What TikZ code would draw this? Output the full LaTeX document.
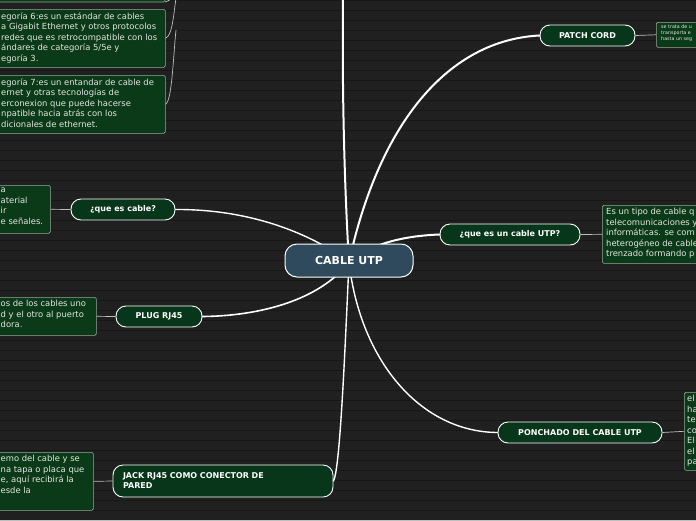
\documentclass[tikz,border=0pt]{standalone}
\usepackage{fontspec}
\setmainfont{DejaVu Sans}
\begin{document}
\begin{tikzpicture}[x=1pt,y=-1pt,
  topic/.style={draw=white,line width=0.9pt,fill=topicgreen,rounded corners=10pt,text=white,font=\bfseries\fontsize{8}{10}\selectfont,inner sep=0pt},
  leaf/.style={draw=leafborder,line width=0.6pt,fill=leafgreen,rounded corners=1.5pt},
  leaftext/.style={text=white!90!black,font=\fontsize{8.4}{10.5}\selectfont,anchor=north west,align=left,inner sep=0pt},
  thick branch/.style={white,line width=2pt,line cap=round},
  thin branch/.style={white!75!black,line width=0.7pt}]
\definecolor{bg}{HTML}{202021}
\definecolor{topicgreen}{HTML}{08361A}
\definecolor{leafgreen}{HTML}{0A3A17}
\definecolor{leafborder}{HTML}{9AA59C}
\definecolor{centerblue}{HTML}{2E4A5C}
\useasboundingbox (0,0) rectangle (696,520);
\fill[bg] (0,0) rectangle (696,520);
\begin{scope}
\clip (0,0) rectangle (696,520);
\foreach \r in {0,...,52}{
  \draw[black,line width=0.3pt,opacity=0.25] (0,\r*10) -- (696,\r*10);
}
\coordinate (c) at (349,262);
\coordinate (topend) at (343,-2);
\coordinate (catend) at (176,-2);
\draw[thick branch] (c) .. controls (344,180) and (342,80) .. (topend);
\draw[leaf] (-5,-20) rectangle (165,2);
\node[leaf,minimum width=175pt,minimum height=58pt,anchor=north west] (cat6) at (-10,9) {};
\node[leaftext] at (1,12.5) {egoría 6:es un estándar de cables\\a Gigabit Ethernet y otros protocolos\\redes que es retrocompatible con los\\ándares de categoría 5/5e y\\egoría 3.};
\node[leaf,minimum width=175pt,minimum height=58pt,anchor=north west] (cat7) at (-10,75) {};
\node[leaftext] at (1,78.5) {egoría 7:es un entandar de cable de\\ernet y otras tecnologías de\\erconexion que puede hacerse\\npatible hacia atrás con los\\dicionales de ethernet.};
\draw[thin branch] (cat6.east) .. controls (172,35) and (173,20) .. (catend);
\draw[thin branch] (cat7.east) .. controls (172,100) and (173,60) .. (176,30);
\draw[thin branch] (165,2) .. controls (170,0) .. (171,-2);
\node[leaf,minimum width=60pt,minimum height=48pt,anchor=north west] (lcable) at (-10,185) {};
\node[leaftext] at (0.5,188) {a\\aterial\\ir\\e señales.};
\node[leaf,minimum width=106pt,minimum height=38pt,anchor=north west] (lplug) at (-10,297) {};
\node[leaftext] at (0.5,300) {os de los cables uno\\d y el otro al puerto\\dora.};
\node[leaf,minimum width=103pt,minimum height=58pt,anchor=north west] (ljack) at (-10,452) {};
\node[leaftext] at (0.5,455) {emo del cable y se\\na tapa o placa que\\e, aquí recibirá la\\esde la};
\node[leaf,minimum width=50pt,minimum height=25pt,anchor=north west] (lpatch) at (656,22) {};
\node[leaftext,font=\fontsize{4.8}{6}\selectfont] at (661,25) {se trata de u\\transporta e\\hasta un seg};
\node[leaf,minimum width=100pt,minimum height=58pt,anchor=north west] (lutp) at (602,205) {};
\node[leaftext] at (606,208) {Es un tipo de cable q\\telecomunicaciones y\\informáticas. se com\\heterogéneo de cable\\trenzado formando p};
\node[leaf,minimum width=20pt,minimum height=78pt,anchor=north west] (lponch) at (684,392) {};
\node[leaftext] at (687,395) {el\\ha\\te\\co\\El\\el\\pa};
\node[topic,minimum width=95pt,minimum height=21pt] (patch) at (587.5,35.5) {PATCH CORD};
\node[topic,minimum width=140pt,minimum height=21pt] (utp) at (510,234.5) {¿que es un cable UTP?};
\node[topic,minimum width=164pt,minimum height=21pt] (ponch) at (580,432.5) {PONCHADO DEL CABLE UTP};
\node[topic,minimum width=220pt,minimum height=32pt,align=left,text width=200pt] (jack) at (223,481) {JACK RJ45 COMO CONECTOR DE\\PARED};
\node[topic,minimum width=86pt,minimum height=21pt] (plug) at (159,316.5) {PLUG RJ45};
\node[topic,minimum width=104pt,minimum height=21pt] (cable) at (123,209.5) {¿que es cable?};
\draw[thick branch] (c) .. controls (380,120) and (450,40) .. (patch.west);
\draw[thick branch] (c) .. controls (370,245) and (400,236) .. (utp.west);
\draw[thick branch,line width=1.4pt] (c) .. controls (360,360) and (420,432) .. (ponch.west);
\draw[thick branch,line width=1.4pt] (c) .. controls (345,350) and (340,470) .. (jack.east);
\draw[thick branch,line width=1.6pt] (c) .. controls (320,300) and (260,316) .. (plug.east);
\draw[thick branch,line width=1.4pt] (c) .. controls (320,240) and (260,209) .. (cable.east);
\draw[thin branch] (patch.east) -- (lpatch.west);
\draw[thin branch] (utp.east) -- (lutp.west);
\draw[thin branch] (ponch.east) -- (lponch.west);
\draw[thin branch] (jack.west) -- (ljack.east);
\draw[thin branch] (plug.west) -- (lplug.east);
\draw[thin branch] (cable.west) -- (lcable.east);
\node[draw=white,line width=1pt,fill=centerblue,rounded corners=12pt,minimum width=128pt,minimum height=33pt,text=white,font=\bfseries\fontsize{11}{13}\selectfont] (center) at (349,260.5) {CABLE UTP};
\end{scope}
\end{tikzpicture}
\end{document}
